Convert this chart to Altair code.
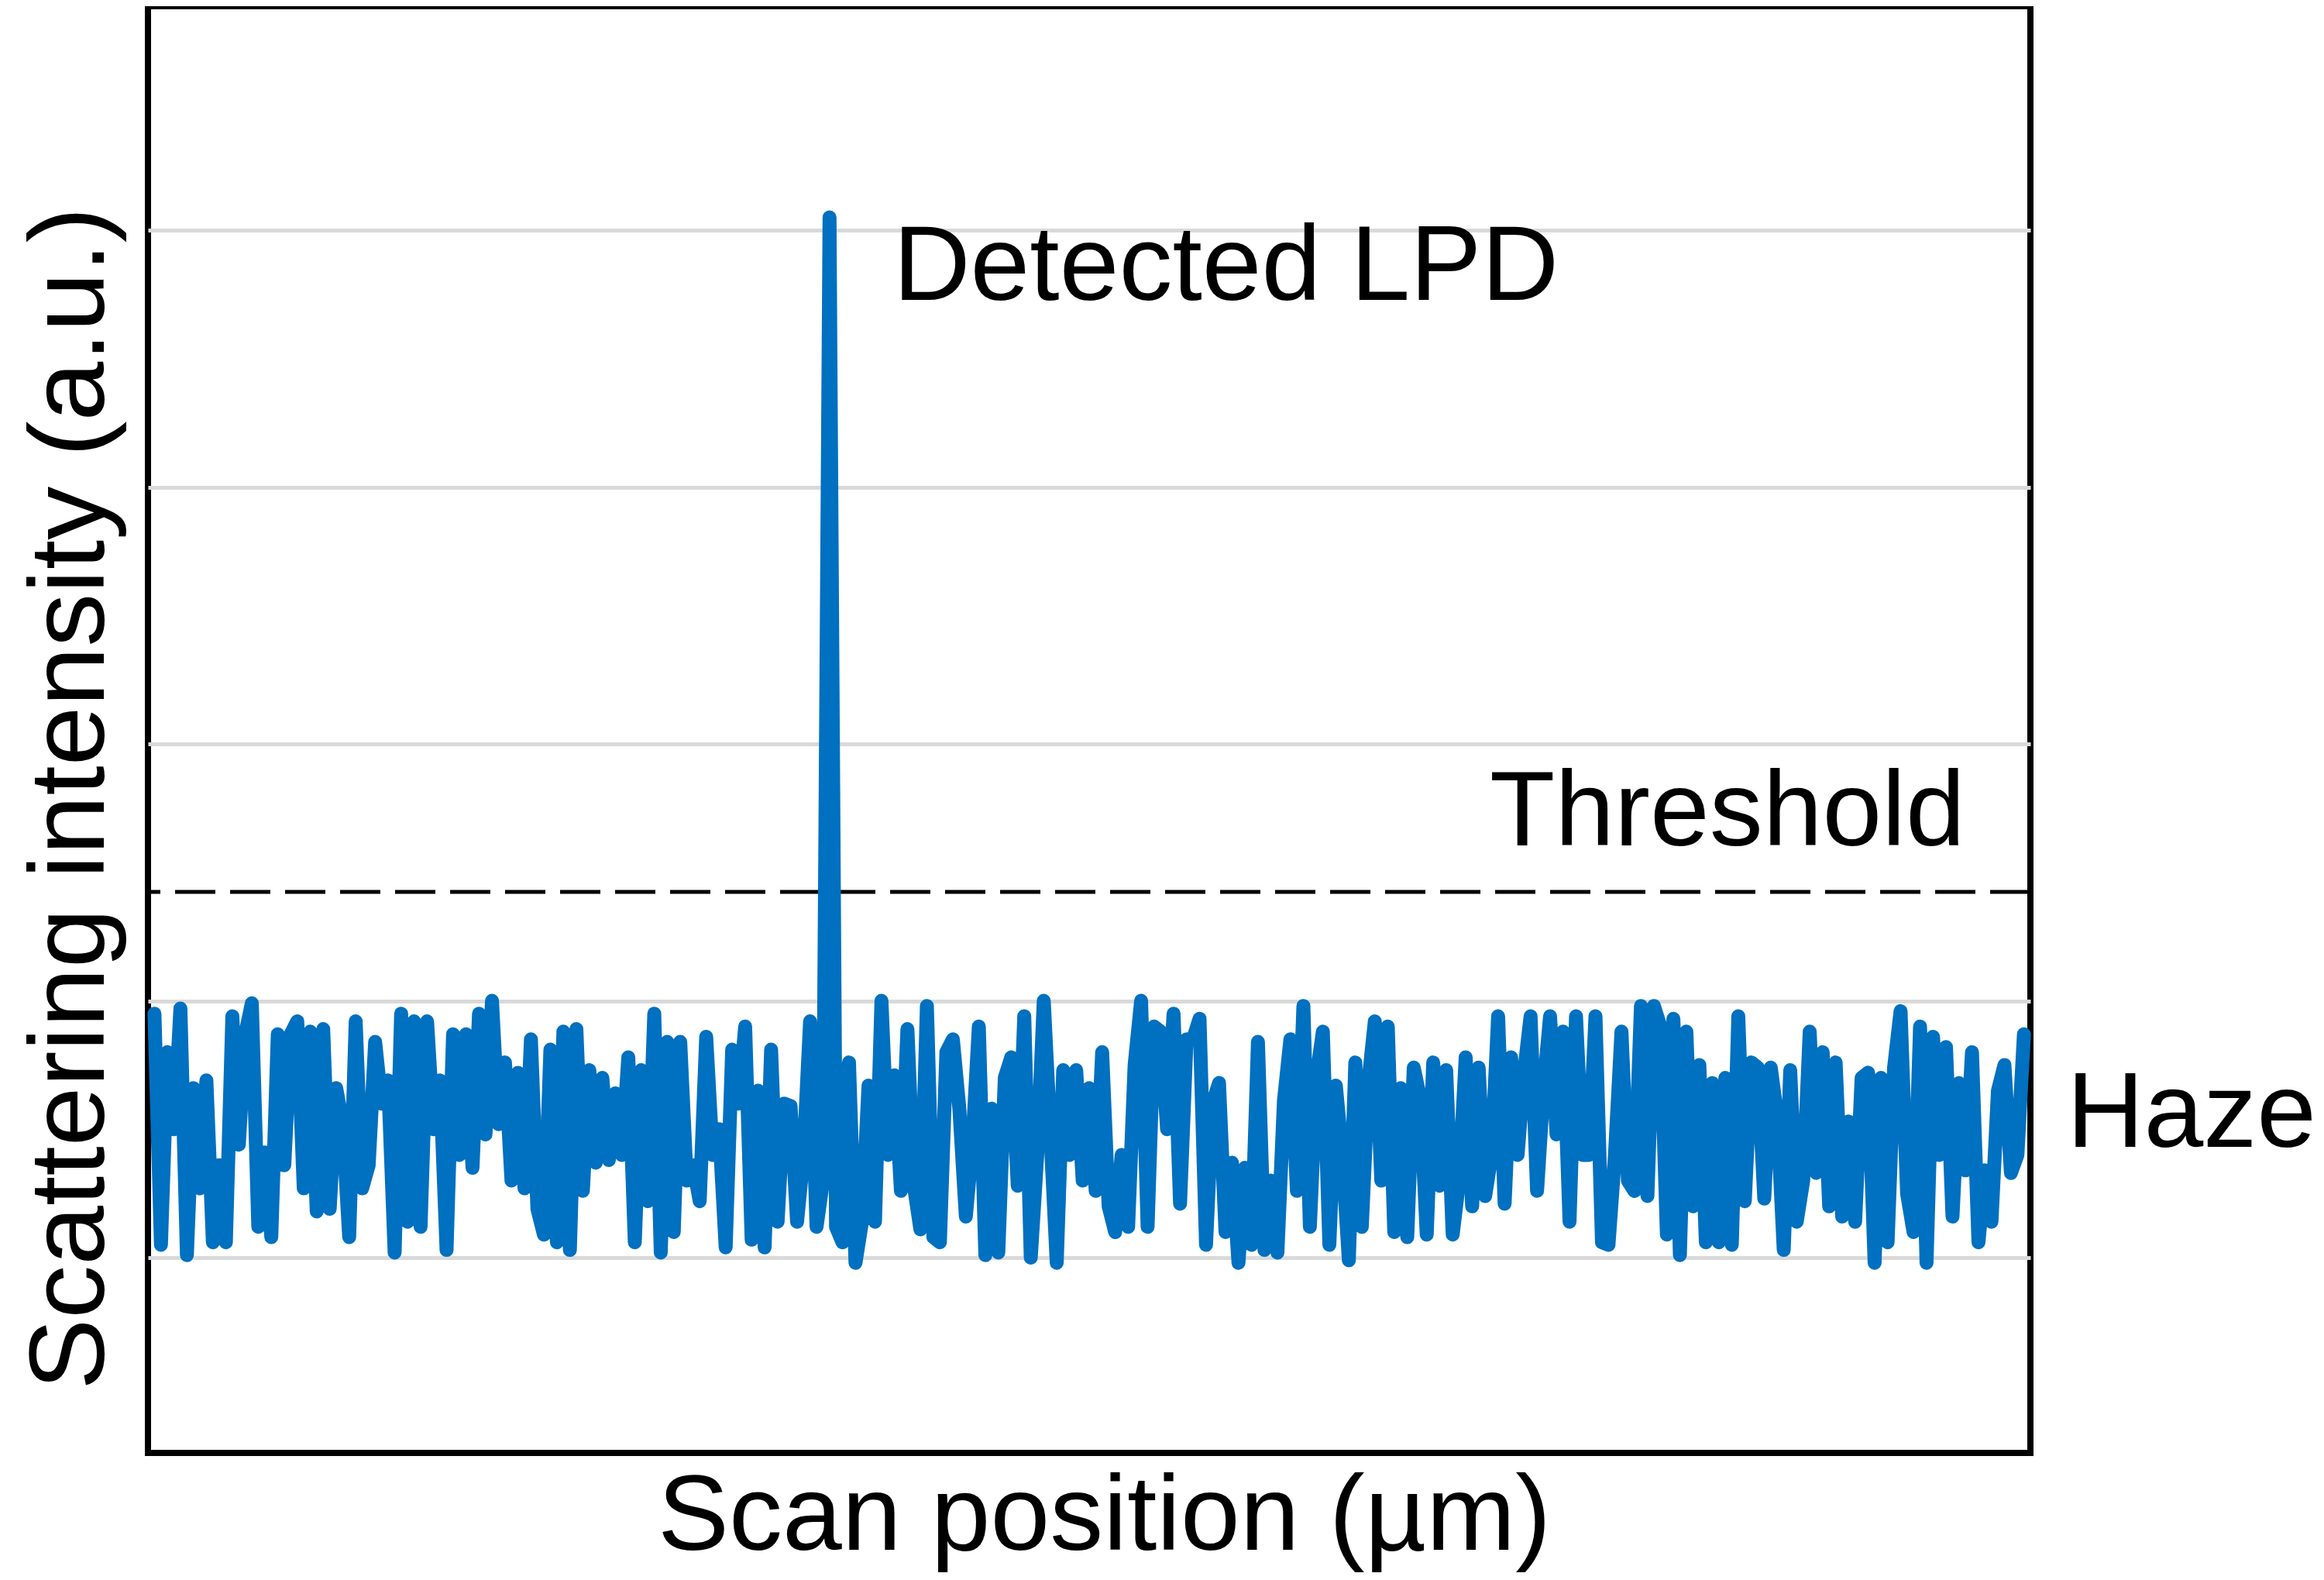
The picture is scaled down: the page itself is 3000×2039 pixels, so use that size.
import altair as alt
import pandas as pd

# Scattering intensity samples (bottom gridline = 1, next = 2, ...)
seg1 = [1.95, 1.05, 1.80, 1.50, 1.97, 1.01, 1.66, 1.27, 1.69, 1.06, 1.36, 1.06, 1.94, 1.44,
        1.87, 1.99, 1.12, 1.41, 1.08, 1.87, 1.36, 1.87, 1.92, 1.27, 1.88, 1.18, 1.89, 1.19,
        1.66, 1.52, 1.08, 1.92, 1.27, 1.36, 1.84, 1.60, 1.69, 1.02, 1.95, 1.14, 1.92, 1.12,
        1.92, 1.50, 1.69, 1.03, 1.87, 1.40]
seg2 = [1.87, 1.35, 1.95, 1.48, 2.00, 1.52, 1.76, 1.30, 1.72, 1.27, 1.85, 1.19, 1.09, 1.81,
        1.06, 1.88, 1.03, 1.89, 1.26, 1.73, 1.37, 1.70, 1.38, 1.64, 1.40, 1.78, 1.06, 1.73,
        1.22, 1.95, 1.02, 1.84, 1.10, 1.84, 1.30, 1.36, 1.22, 1.86, 1.40, 1.50, 1.04, 1.81,
        1.60, 1.90, 1.07, 1.65, 1.04, 1.81, 1.14, 1.60]
seg3 = [1.59, 1.14, 1.40, 1.92, 1.12, 1.30, 5.05, 1.12, 1.06, 1.76, 0.98, 1.14, 1.67, 1.14,
        2.00, 1.40, 1.71, 1.26, 1.89, 1.28, 1.11, 1.98, 1.08, 1.06, 1.80, 1.85, 1.58, 1.16,
        1.44, 1.90, 1.01, 1.58, 1.02, 1.70, 1.78, 1.28, 1.94, 1.00, 1.40, 2.00, 1.50, 0.98,
        1.73, 1.40]
seg4 = [1.73, 1.30, 1.66, 1.26, 1.80, 1.20, 1.10, 1.40, 1.12, 1.75, 2.00, 1.12, 1.90, 1.88,
        1.50, 1.95, 1.21, 1.85, 1.85, 1.93, 1.05, 1.60, 1.68, 1.10, 1.37, 0.98, 1.35, 1.05,
        1.84, 1.03, 1.30, 1.02, 1.61, 1.85, 1.26, 1.98, 1.12, 1.70, 1.88, 1.05, 1.67, 1.40,
        0.99, 1.76, 1.12, 1.68, 1.92, 1.30, 1.90, 1.10, 1.66, 1.08, 1.74]
seg5 = [1.62, 1.09, 1.76, 1.28, 1.73, 1.09, 1.30, 1.78, 1.20, 1.74, 1.24, 1.40, 1.94, 1.21,
        1.78, 1.40, 1.72, 1.94, 1.26, 1.66, 1.94, 1.48, 1.88, 1.14, 1.94, 1.40, 1.40, 1.94,
        1.06, 1.05, 1.40, 1.88, 1.30, 1.26, 1.98, 1.24, 1.98, 1.90, 1.09, 1.93, 1.01, 1.88,
        1.20, 1.75, 1.06, 1.68, 1.06, 1.70, 1.05, 1.94, 1.22, 1.76]
seg6 = [1.74, 1.23, 1.74, 1.55, 1.03, 1.73, 1.14, 1.30, 1.88, 1.33, 1.80, 1.20, 1.76, 1.16,
        1.53, 1.14, 1.70, 1.72, 0.98, 1.70, 1.06, 1.74, 1.96, 1.25, 1.10, 1.90, 0.98, 1.86,
        1.40, 1.82, 1.16, 1.68, 1.34, 1.80, 1.06, 1.34, 1.14, 1.65, 1.75, 1.33, 1.40, 1.87]

intensity = seg1 + seg2 + seg3 + seg4 + seg5 + seg6
position = list(range(len(intensity)))

threshold = [2.424]
grid_values = [1, 2, 3, 4, 5]

labels = ["Detected LPD", "Threshold", "Haze"]
label_pos = [113.8, 205.7, 294.6]
label_val = [4.73, 2.605, 1.431]

FONT = "Liberation Sans, Arial, Helvetica, sans-serif"
BLUE = "#0070C0"

df = pd.DataFrame({"position": position, "intensity": intensity})
df_thr = pd.DataFrame({"intensity": threshold})
df_lab = pd.DataFrame({"label": labels, "position": label_pos, "intensity": label_val})

x_scale = alt.Scale(domain=[-1, 289], nice=False, zero=False)
y_scale = alt.Scale(domain=[0.24, 5.872], nice=False, zero=False)

x_axis = alt.Axis(labels=False, ticks=False, domain=False, grid=False,
                  titleFont=FONT, titleFontSize=138, titleFontWeight="normal",
                  titleColor="black", titleX=1234, titleY=124,
                  titleBaseline="alphabetic", titleAlign="center")
y_axis = alt.Axis(values=grid_values, labels=False, ticks=False, domain=False, grid=True,
                  gridColor="#d9d9d9", gridWidth=5, titleFont=FONT, titleFontSize=138,
                  titleFontWeight="normal", titleColor="black", titleAngle=270,
                  titleX=-58, titleY=1022, titleBaseline="alphabetic", titleAlign="center")

X = alt.X("position:Q", scale=x_scale, axis=x_axis, title="Scan position (µm)")
Y = alt.Y("intensity:Q", scale=y_scale, axis=y_axis, title="Scattering intensity (a.u.)")

line = alt.Chart(df).mark_line(
    color=BLUE, strokeWidth=18, strokeJoin="round", strokeCap="round"
).encode(x=X, y=Y)

thr = alt.Chart(df_thr).mark_rule(
    color="black", strokeWidth=5, strokeDash=[52, 19]
).encode(y=Y)

text = alt.Chart(df_lab).mark_text(
    align="left", baseline="alphabetic", font=FONT, fontSize=138, color="black"
).encode(x=X, y=Y, text="label:N")

chart = alt.layer(thr, line, text).properties(
    width=2430,
    height=1867,
    background="white",
    autosize=alt.AutoSizeParams(type="none"),
    padding={"left": 183, "top": 0, "right": 371, "bottom": 156},
).configure_view(
    stroke="black", strokeWidth=8
)

chart.save("out.html", embed_options={"renderer": "svg", "actions": False})
